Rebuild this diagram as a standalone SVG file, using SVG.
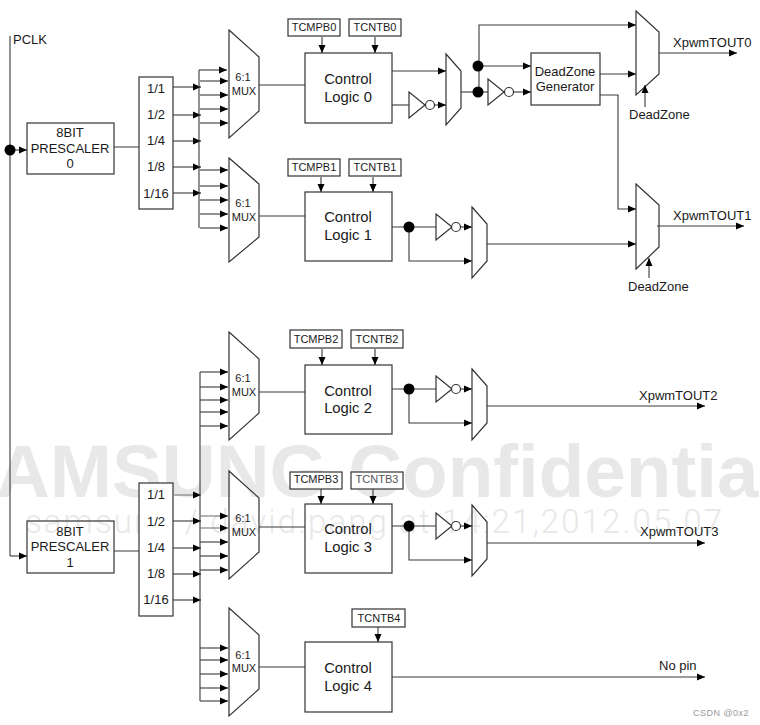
<svg xmlns="http://www.w3.org/2000/svg" width="760" height="725" viewBox="0 0 760 725">
<style>
text{font-family:"Liberation Sans",Arial,sans-serif;fill:#1a1a1a;text-anchor:middle}
.box,.gate{fill:#fff;stroke:#333;stroke-width:1.2}
.wire{fill:none;stroke:#3a3a3a;stroke-width:1.1}
.a{marker-end:url(#arrow)}
.dot{fill:#000}
.t11{font-size:11px}.t13{font-size:13px}.t15{font-size:14.8px}
.l{text-anchor:start}
.wm1{font-size:74.6px;font-weight:bold;fill:#e8e8e8;text-anchor:start}
.wm2{font-family:Roboto,"Liberation Sans",sans-serif;font-weight:300;font-size:33px;fill:#e8e8e8;text-anchor:start}
</style>
<defs>
<marker id="arrow" markerUnits="userSpaceOnUse" markerWidth="9" markerHeight="8" refX="8" refY="4" orient="auto"><path d="M0,0.5L8,4L0,7.5z" fill="#000"/></marker>
<path id="mux" class="gate" d="M0,0L30,27V81L0,108z"/>
<path id="smux" class="gate" d="M0,0L15,17V54L0,71z"/>
<path id="inv" class="gate" d="M0,-13V13L16,0z"/>
</defs>

<g id="watermark">
<text class="wm1" x="-4" y="497">AMSUNG Confidentia</text>
<text class="wm2" x="25" y="533" textLength="697">samsung / david.pang at 14:21,2012.05.07</text>
</g>

<g id="pclk"><text class="t13 l" x="13" y="44">PCLK</text></g>
<g id="prescaler0"><rect class="box" x="27" y="123" width="87" height="51"/><text class="t13" x="70" y="137">8BIT</text><text class="t13" x="70" y="153">PRESCALER</text><text class="t13" x="70" y="168">0</text></g>
<g id="prescaler1"><rect class="box" x="27" y="521" width="87" height="52" style="fill:none"/><text class="t13" x="70" y="536">8BIT</text><text class="t13" x="70" y="551">PRESCALER</text><text class="t13" x="70" y="567">1</text></g>
<g id="divider0"><rect class="box" x="139" y="77" width="34" height="132"/><text class="t13" x="156" y="93">1/1</text><text class="t13" x="156" y="119">1/2</text><text class="t13" x="156" y="145">1/4</text><text class="t13" x="156" y="171">1/8</text><text class="t13" x="156" y="198">1/16</text></g>
<g id="divider1"><rect class="box" x="139" y="483" width="34" height="133"/><text class="t13" x="156" y="499">1/1</text><text class="t13" x="156" y="526">1/2</text><text class="t13" x="156" y="552">1/4</text><text class="t13" x="156" y="578">1/8</text><text class="t13" x="156" y="604">1/16</text></g>

<g id="mux0"><use href="#mux" x="229" y="30"/><text class="t11" x="243" y="81">6:1</text><text class="t11" x="244" y="95">MUX</text></g>
<g id="mux1"><path class="gate" d="M229,158L259,184V237L229,262z"/><text class="t11" x="243" y="207">6:1</text><text class="t11" x="244" y="221">MUX</text></g>
<g id="mux2"><use href="#mux" x="229" y="332"/><text class="t11" x="243" y="382">6:1</text><text class="t11" x="244" y="396">MUX</text></g>
<g id="mux3"><path class="gate" style="fill:none" d="M229,471L259,498V552L229,579z"/><text class="t11" x="243" y="522">6:1</text><text class="t11" x="244" y="536">MUX</text></g>
<g id="mux4"><use href="#mux" x="229" y="608"/><text class="t11" x="243" y="659">6:1</text><text class="t11" x="244" y="672">MUX</text></g>

<g id="logic0"><rect class="box" x="305" y="53" width="87" height="70"/><text class="t15" x="348" y="84">Control</text><text class="t15" x="348" y="102">Logic 0</text></g>
<g id="logic1"><rect class="box" x="305" y="192" width="87" height="69"/><text class="t15" x="348" y="222">Control</text><text class="t15" x="348" y="240">Logic 1</text></g>
<g id="logic2"><rect class="box" x="305" y="365" width="87" height="69"/><text class="t15" x="348" y="396">Control</text><text class="t15" x="348" y="413">Logic 2</text></g>
<g id="logic3"><rect class="box" x="305" y="504" width="87" height="69" style="fill:none"/><text class="t15" x="348" y="534">Control</text><text class="t15" x="348" y="552">Logic 3</text></g>
<g id="logic4"><rect class="box" x="305" y="642" width="87" height="70"/><text class="t15" x="348" y="673">Control</text><text class="t15" x="348" y="691">Logic 4</text></g>

<g id="tcmpb0"><rect class="box" x="288" y="19" width="52" height="17"/><text class="t11" x="314" y="31">TCMPB0</text></g>
<g id="tcntb0"><rect class="box" x="349" y="19" width="52" height="17"/><text class="t11" x="375" y="31">TCNTB0</text></g>
<g id="tcmpb1"><rect class="box" x="288" y="159" width="52" height="17"/><text class="t11" x="314" y="171">TCMPB1</text></g>
<g id="tcntb1"><rect class="box" x="349" y="159" width="52" height="17"/><text class="t11" x="375" y="171">TCNTB1</text></g>
<g id="tcmpb2"><rect class="box" x="290" y="330" width="52" height="18"/><text class="t11" x="316" y="343">TCMPB2</text></g>
<g id="tcntb2"><rect class="box" x="351" y="330" width="52" height="18"/><text class="t11" x="377" y="343">TCNTB2</text></g>
<g id="tcmpb3"><rect class="box" x="290" y="472" width="52" height="17"/><text class="t11" x="316" y="483">TCMPB3</text></g>
<g id="tcntb3"><rect class="box" x="351" y="472" width="52" height="17"/><text class="t11" x="377" y="483" style="fill:#555">TCNTB3</text></g>
<g id="tcntb4"><rect class="box" x="352" y="609" width="53" height="18"/><text class="t11" x="379" y="622">TCNTB4</text></g>

<g id="selmux0"><use href="#smux" x="446" y="54"/></g>
<g id="selmux1"><use href="#smux" x="472" y="207"/></g>
<g id="selmux2"><use href="#smux" x="472" y="369"/></g>
<g id="selmux3"><path class="gate" style="fill:none" d="M472,505L487,522V559L472,576z"/></g>
<g id="inv0"><use href="#inv" x="409" y="105"/><circle class="gate" cx="430" cy="105" r="4.5"/></g>
<g id="inv0b"><use href="#inv" x="488" y="92"/><circle class="gate" cx="509" cy="92" r="4.5"/></g>
<g id="inv1"><use href="#inv" x="436" y="227"/><circle class="gate" cx="456" cy="227" r="4.5"/></g>
<g id="inv2"><use href="#inv" x="436" y="389"/><circle class="gate" cx="456" cy="389" r="4.5"/></g>
<g id="inv3"><use href="#inv" x="436" y="526"/><circle class="gate" cx="456" cy="526" r="4.5"/></g>
<g id="deadzone-gen"><rect class="box" x="531" y="53" width="69" height="52"/><text class="t13" x="565" y="76">DeadZone</text><text class="t13" x="565" y="91">Generator</text></g>
<g id="outmux0"><path class="gate" d="M636,11L659,32V74L636,95z"/></g>
<g id="outmux1"><path class="gate" d="M636,184L659,205V247L636,269z"/></g>
<g id="labels">
<text class="t13 l" x="673" y="47">XpwmTOUT0</text>
<text class="t13 l" x="673" y="220">XpwmTOUT1</text>
<text class="t13 l" x="639" y="400">XpwmTOUT2</text>
<text class="t13 l" x="640" y="536">XpwmTOUT3</text>
<text class="t13 l" x="659" y="670">No pin</text>
<text class="t13 l" x="629" y="119">DeadZone</text>
<text class="t13 l" x="628" y="291">DeadZone</text>
</g>

<g id="connectors" class="wire">
<path d="M10,36V556"/>
<path class="a" d="M10,556H27"/>
<path class="a" d="M10,150H27"/>
<path d="M114,147H139M114,551H139"/>
<path class="a" d="M173,87H201"/><path class="a" d="M173,115H201"/><path class="a" d="M173,141H201"/><path class="a" d="M173,167H201"/><path class="a" d="M173,193H201"/>
<path d="M199,70V228"/>
<path class="a" d="M199,70H227"/><path class="a" d="M200,81H228"/><path class="a" d="M200,95H228"/><path class="a" d="M200,109H228"/><path class="a" d="M200,123H228"/>
<path class="a" d="M200,170H228"/><path class="a" d="M200,186H228"/><path class="a" d="M200,200H228"/><path class="a" d="M200,214H228"/><path class="a" d="M200,228H228"/>
<path class="a" d="M173,495H201" style="stroke:#777"/><path class="a" d="M173,521H201"/><path class="a" d="M173,548H201"/><path class="a" d="M173,574H201"/><path class="a" d="M173,600H201"/>
<path d="M200,372V701"/>
<path class="a" d="M200,372H228"/><path class="a" d="M200,387H228"/><path class="a" d="M200,400H228"/><path class="a" d="M200,412H228"/><path class="a" d="M200,426H228"/>
<path class="a" d="M200,516H228" style="stroke:#777"/><path class="a" d="M200,528H228" style="stroke:#777"/><path class="a" d="M200,542H228"/><path class="a" d="M200,556H228"/><path class="a" d="M200,570H228"/>
<path class="a" d="M200,648H228"/><path class="a" d="M200,660H228"/><path class="a" d="M200,674H228"/><path class="a" d="M200,688H228"/><path class="a" d="M200,701H228"/>
<path d="M259,85H305M259,216H305M259,392H305M259,527H305M259,667H305"/>
<path class="a" d="M322,37V53"/><path class="a" d="M375,37V53"/><path class="a" d="M321,177V192"/><path class="a" d="M373,177V192"/>
<path class="a" d="M322,349V365"/><path class="a" d="M375,349V365"/><path class="a" d="M321,489V504"/><path class="a" d="M373,489V504"/><path class="a" d="M378,627V642"/>
<path class="a" d="M392,71H446"/><path d="M392,105H409"/><path class="a" d="M435,105H446"/>
<path d="M461,92H488"/><path class="a" d="M479,92V25H636"/><path class="a" d="M479,66H531"/><path class="a" d="M514,92H531"/>
<path class="a" d="M600,74H636"/><path class="a" d="M600,95H618V209H636"/>
<path class="a" d="M659,53H737"/><path class="a" d="M657,226H744"/>
<path class="a" d="M645,107V85"/><path class="a" d="M649,278V258"/>
<path d="M392,227H436M392,389H436M392,526H436"/>
<path class="a" d="M461,227H472"/><path class="a" d="M461,389H472"/><path class="a" d="M461,526H472"/>
<path class="a" d="M409,227V261H472"/><path class="a" d="M409,389V423H472"/><path class="a" d="M409,526V560H472"/>
<path class="a" d="M487,244H636"/><path class="a" d="M487,406H705"/><path class="a" d="M487,543H705"/><path class="a" d="M392,677H705"/>
<circle class="dot" cx="10" cy="150" r="5.5" stroke="none"/><circle class="dot" cx="478" cy="66" r="5.5" stroke="none"/><circle class="dot" cx="478" cy="92" r="5.5" stroke="none"/><circle class="dot" cx="409" cy="227" r="5.5" stroke="none"/><circle class="dot" cx="409" cy="389" r="5.5" stroke="none"/><circle class="dot" cx="409" cy="526" r="5.5" stroke="none"/>
</g>

<text x="721" y="716" font-size="9" style="fill:#999;letter-spacing:.5px">CSDN @0x2</text>
</svg>
